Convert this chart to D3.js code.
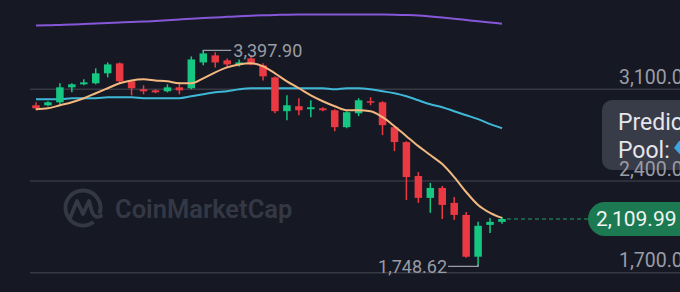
<!DOCTYPE html>
<html>
<head>
<meta charset="utf-8">
<script src="https://cdn.jsdelivr.net/npm/d3@7"></script>
<style>
  html, body { margin: 0; padding: 0; background: #161923; }
  svg { display: block; font-family: Roboto, "Noto Sans", sans-serif; }
</style>
</head>
<body>
<div id="chart"></div>
<script>
// candles (oldest -> newest)
const opens  = [2978,2978,3001,3115,3138,3146,3222,3298,3161,3100,3092,3085,3115,3108,3305,3359,3321,3290,3336,3283,3191,2933,2971,2948,2955,2940,2811,2917,3009,3001,2811,2697,2438,2271,2347,2233,2141,1822,2065,2088];
const highs  = [3001,3009,3146,3146,3176,3260,3305,3305,3168,3130,3100,3138,3153,3351,3397.90,3382,3336,3328,3359,3298,3199,3054,3032,3016,2963,2948,2933,3032,3039,3009,2818,2704,2468,2385,2362,2278,2164,2088,2118,2126];
const lows   = [2940,2971,2986,3077,3130,3138,3191,3146,3054,3062,3070,3077,3062,3100,3283,3267,3260,3275,3283,3168,2917,2864,2902,2887,2933,2780,2803,2895,2978,2750,2628,2255,2233,2157,2110,2103,1814,1748.62,2004,2073];
const closes = [2955,3001,3115,3138,3153,3222,3290,3161,3108,3085,3077,3115,3092,3328,3374,3305,3290,3305,3290,3199,2933,2978,2940,2963,2940,2811,2925,3016,3001,2826,2697,2430,2271,2347,2217,2141,1822,2058,2088,2109.99];

// moving averages
const maShort = [2948,2955,2978,3001,3032,3070,3108,3146,3168,3176,3168,3161,3146,3146,3184,3229,3267,3290,3298,3275,3222,3161,3108,3054,3009,2971,2940,2940,2933,2887,2818,2742,2666,2598,2529,2430,2316,2217,2157,2118];
const maMid   = [3024,3024,3024,3032,3032,3032,3039,3039,3039,3032,3032,3032,3032,3047,3062,3077,3085,3100,3108,3108,3108,3108,3108,3108,3108,3100,3108,3108,3100,3085,3070,3047,3016,2986,2963,2933,2902,2872,2834,2803];
const maLong  = [3587,3588,3591,3594,3598,3602,3606,3610,3614,3617,3622,3627,3633,3639,3644,3648,3653,3658,3662,3665,3667,3670,3671,3671,3671,3671,3671,3671,3671,3671,3670,3667,3663,3656,3648,3639,3629,3619,3610,3601];

const priceTicks = [3100, 2400, 1700];
const lastPrice = 2109.99;
const highMark = {i: 14, v: 3397.90};
const lowMark  = {i: 37, v: 1748.62};

const W = 680, H = 292;
const fmt = d3.format(",.2f");

const svg = d3.select("#chart").append("svg")
  .attr("width", W).attr("height", H);

svg.append("rect").attr("width", W).attr("height", H).attr("fill", "#161923");

const x = d3.scaleLinear().domain([0, opens.length - 1]).range([36, 502]);
const y = d3.scaleLinear().domain([1700, 3100]).range([272.7, 89.3]);

// watermark
const wm = svg.append("g").attr("fill", "none").attr("stroke", "#343845");
wm.append("path")
  .attr("d", d3.arc()({innerRadius: 17.5, outerRadius: 17.5, startAngle: 2.5, endAngle: 2 * Math.PI + 1.9}))
  .attr("transform", "translate(83,208)")
  .attr("stroke-width", 3.8);
wm.append("path")
  .attr("d", "M70,218 L77,201 L83,214 L89,201 L92,212 Q95,219 101,216")
  .attr("stroke-width", 3.8).attr("stroke-linejoin", "round").attr("stroke-linecap", "round");
svg.append("text")
  .attr("x", 115).attr("y", 217.5)
  .attr("fill", "#343845")
  .style("font-size", "25.5px").style("font-weight", 600)
  .text("CoinMarketCap");

// grid lines
svg.append("g").selectAll("line")
  .data(priceTicks).join("line")
  .attr("x1", 30).attr("x2", W)
  .attr("y1", d => y(d)).attr("y2", d => y(d))
  .attr("stroke", "#363944").attr("stroke-width", 1.5);

// MA lines
const line = arr => d3.line().x((d, i) => x(i)).y(d => y(d)).curve(d3.curveMonotoneX)(arr);
svg.append("path").attr("d", line(maLong)).attr("fill", "none").attr("stroke", "#8657d8").attr("stroke-width", 2);
svg.append("path").attr("d", line(maMid)).attr("fill", "none").attr("stroke", "#3fb7d6").attr("stroke-width", 2);

// candles
const idx = d3.range(opens.length);
const col = i => closes[i] >= opens[i] ? "#16c784" : "#ea3943";
const cg = svg.append("g");
cg.selectAll("line.wick").data(idx).join("line")
  .attr("class", "wick")
  .attr("x1", i => x(i)).attr("x2", i => x(i))
  .attr("y1", i => y(highs[i])).attr("y2", i => y(lows[i]))
  .attr("stroke", col).attr("stroke-width", 1.5);
cg.selectAll("rect").data(idx).join("rect")
  .attr("x", i => x(i) - 3.75).attr("width", 7.5)
  .attr("y", i => y(Math.max(opens[i], closes[i])))
  .attr("height", i => Math.max(1.5, Math.abs(y(opens[i]) - y(closes[i]))))
  .attr("fill", col);

svg.append("path").attr("d", line(maShort)).attr("fill", "none").attr("stroke", "#f2b880").attr("stroke-width", 2);

// high / low markers
const hx = x(highMark.i), hy = y(highMark.v);
svg.append("path").attr("d", `M${hx},${hy + 2}V${hy}H${hx + 28}`)
  .attr("fill", "none").attr("stroke", "#9a9ca6").attr("stroke-width", 1.2);
svg.append("text").attr("x", hx + 30).attr("y", hy + 6.5)
  .attr("fill", "#9a9ca6").style("font-size", "18px").text(fmt(highMark.v));

const lx = x(lowMark.i), ly = y(lowMark.v);
svg.append("path").attr("d", `M${lx},${ly - 2}V${ly}H${lx - 30}`)
  .attr("fill", "none").attr("stroke", "#9a9ca6").attr("stroke-width", 1.2);
svg.append("text").attr("x", lx - 31).attr("y", ly + 6.5).attr("text-anchor", "end")
  .attr("fill", "#9a9ca6").style("font-size", "18px").text(fmt(lowMark.v));

// prediction box
svg.append("rect").attr("x", 602).attr("y", 100).attr("width", 100).attr("height", 70)
  .attr("rx", 10).attr("fill", "#383b48");
svg.append("text").attr("x", 618).attr("y", 130).attr("fill", "#e6e6ea")
  .style("font-size", "23px").text("Prediction");
svg.append("text").attr("x", 618).attr("y", 158).attr("fill", "#e6e6ea")
  .style("font-size", "23px").text("Pool:");
svg.append("path").attr("d", "M674,148 L679,141 L691,141 L697,148 L685,160 Z").attr("fill", "#3aa6e8");

// price axis labels
svg.append("g").selectAll("text")
  .data(priceTicks).join("text")
  .attr("x", 619).attr("y", d => y(d) - 5.5)
  .attr("fill", "#9a9ca6").style("font-size", "19.5px")
  .text(d => fmt(d));

// last price
const py = y(lastPrice);
svg.append("line").attr("x1", x(opens.length - 1) + 5).attr("x2", 590)
  .attr("y1", py).attr("y2", py)
  .attr("stroke", "#1fa06a").attr("stroke-width", 1.2).attr("stroke-dasharray", "4,3");
svg.append("rect").attr("x", 588).attr("y", py - 17).attr("width", 120).attr("height", 34)
  .attr("rx", 17).attr("fill", "#1b7a52");
svg.append("text").attr("x", 596).attr("y", py + 7).attr("fill", "#f2f4f3")
  .style("font-size", "21px").text(fmt(lastPrice));
</script>
</body>
</html>
